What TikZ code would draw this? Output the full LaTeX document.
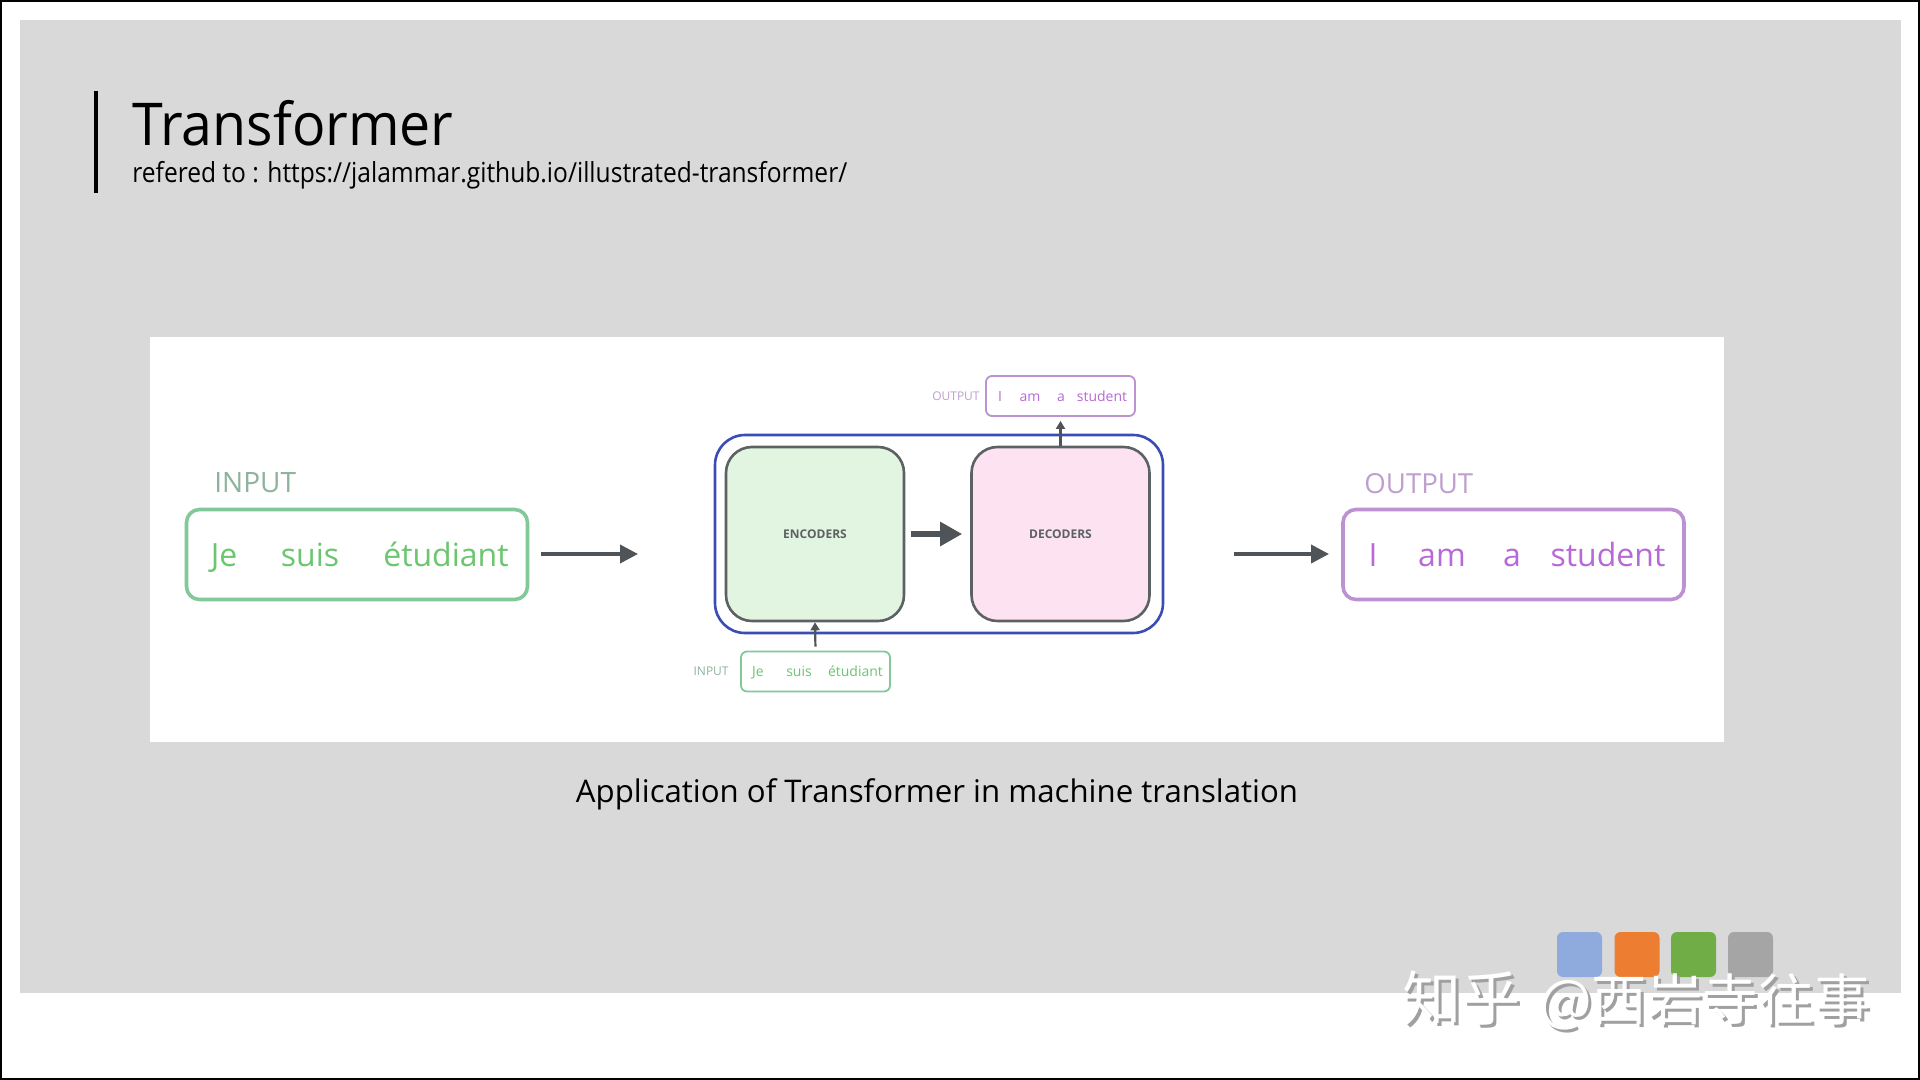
\documentclass[tikz,border=0pt]{standalone}
\usepackage{fontspec}
\setmainfont{Open Sans}
\newfontfamily\cjkfont{Noto Sans CJK SC}
\usetikzlibrary{arrows.meta}
\definecolor{pagegray}{HTML}{D9D9D9}
\definecolor{darkline}{HTML}{4F5458}
\definecolor{softdark}{HTML}{5C6164}
\definecolor{boxgreen}{HTML}{82C99A}
\definecolor{txtgreen}{HTML}{6CC670}
\definecolor{lblgreen}{HTML}{8DB39C}
\definecolor{boxpurple}{HTML}{BC92D2}
\definecolor{txtpurple}{HTML}{B76AD6}
\definecolor{lblpurple}{HTML}{BE9FD0}
\definecolor{fillgreen}{HTML}{E2F5E0}
\definecolor{fillpink}{HTML}{FDE3F1}
\definecolor{blueline}{HTML}{3A4DB5}
\definecolor{sqblue}{HTML}{8FAADC}
\definecolor{sqorange}{HTML}{ED7D31}
\definecolor{sqgreen}{HTML}{70AD47}
\definecolor{sqgray}{HTML}{A5A5A5}
\definecolor{wmshadow}{HTML}{A0A0A0}
\newcommand{\fsz}[1]{\fontsize{#1}{#1}\selectfont}
\tikzset{
  x=0.5pt,y=-0.5pt,
  rbox/.style={rectangle,inner sep=0pt,rounded corners=#1},
  rbox/.default=6pt,
  lbl/.style={inner sep=0pt,anchor=base},
  square/.style={rectangle,inner sep=0pt,minimum width=22.5pt,minimum height=22.5pt,rounded corners=3pt},
  thinup/.style={darkline,line width=1.1pt,-{Triangle[length=4pt,width=4.5pt]}},
  longarrow/.style={darkline,line width=1.9pt,-{Triangle[length=9pt,width=9pt]}},
  bigarrow/.style={darkline,line width=3pt,-{Triangle[length=11pt,width=11.5pt]}},
}
\begin{document}
\begin{tikzpicture}
\useasboundingbox (0,0) rectangle (1920,1080);
% page
\fill[white] (0,0) rectangle (1920,1080);
\draw[black,line width=1pt] (1,1) rectangle (1919,1079);
\fill[pagegray] (20,20) rectangle (1901,993);
\fill[black] (93.5,91) rectangle (98,193);
\node[lbl,anchor=base west,font=\fsz{29.5}] (title) at (132,146) {\scalebox{0.94}[1]{Transformer}};
\node[lbl,anchor=base west,font=\fsz{13.8}] (sub) at (132,183) {\scalebox{0.89}[1]{refered to : https://jalammar.github.io/illustrated-transformer/}};
% panel
\fill[white] (150,337) rectangle (1724,742);
% big input
\node[lbl,anchor=base west,text=lblgreen,font=\fsz{14}] (inlabel) at (214,492) {INPUT};
\node[rbox=6.5pt,draw=boxgreen,line width=1.8pt,minimum width=170.5pt,minimum height=45pt] (inbig) at (357,554.5) {};
\begin{scope}[every node/.style={lbl,text=txtgreen,font=\fsz{16}}]
\node (w1) at (224,566) {Je};
\node (w2) at (310,566) {suis};
\node (w3) at (446,566) {étudiant};
\end{scope}
% big output
\node[lbl,anchor=base west,text=lblpurple,font=\fsz{13.8}] (outlabel) at (1364,493) {OUTPUT};
\node[rbox=6.5pt,draw=boxpurple,line width=1.8pt,minimum width=170.5pt,minimum height=45pt] (outbig) at (1513.5,554.5) {};
\begin{scope}[every node/.style={lbl,text=txtpurple,font=\fsz{16}}]
\node (o1) at (1373,566) {I};
\node (o2) at (1442,566) {am};
\node (o3) at (1512,566) {a};
\node (o4) at (1608,566) {student};
\end{scope}
% container
\node[rbox=15pt,draw=blueline,line width=1.3pt,minimum width=224pt,minimum height=99pt] (box) at (939,534) {};
\node[rbox=13pt,draw=softdark,fill=fillgreen,line width=1.3pt,minimum width=89pt,minimum height=87pt] (enc) at (815,534) {};
\node[rbox=13pt,draw=softdark,fill=fillpink,line width=1.3pt,minimum width=89pt,minimum height=87pt] (dec) at (1060.5,534) {};
\node[inner sep=0pt,text=softdark,font=\fsz{6}\bfseries] (enclab) at (815,534) {ENCODERS};
\node[inner sep=0pt,text=softdark,font=\fsz{6}\bfseries] (declab) at (1060.5,534) {DECODERS};
% small output
\node[rbox=3pt,draw=boxpurple,line width=0.9pt,minimum width=74.5pt,minimum height=20pt] (outsm) at (1060.5,396) {};
\node[inner sep=0pt,anchor=east,text=lblpurple,font=\fsz{6}] (outsmlab) at (980,396) {OUTPUT};
\begin{scope}[every node/.style={lbl,text=txtpurple,font=\fsz{7}}]
\node (s1) at (1000,401.5) {I};
\node (s2) at (1030,401.5) {am};
\node (s3) at (1061,401.5) {a};
\node (s4) at (1102,401.5) {student};
\end{scope}
% small input
\node[rbox=3pt,draw=boxgreen,line width=0.9pt,minimum width=74.5pt,minimum height=20pt] (insm) at (815.5,671.5) {};
\node[inner sep=0pt,anchor=east,text=lblgreen,font=\fsz{6}] (insmlab) at (729,671.5) {INPUT};
\begin{scope}[every node/.style={lbl,text=txtgreen,font=\fsz{7}}]
\node (t1) at (758,676.5) {Je};
\node (t2) at (799,676.5) {suis};
\node (t3) at (855.5,676.5) {étudiant};
\end{scope}
% connectors
\draw[bigarrow,shorten <=3pt,shorten >=4pt] (enc.east) -- (dec.west);
\draw[thinup,shorten >=2pt] (dec.north) -- (outsm.south);
\draw[thinup,shorten <=2pt] (insm.north) -- (enc.south);
\coordinate (fa) at (541,554);
\coordinate (fb) at (638,554);
\coordinate (fc) at (1234,554);
\coordinate (fd) at (1329,554);
\draw[longarrow] (fa) -- (fb);
\draw[longarrow] (fc) -- (fd);
% caption
\node[inner sep=0pt,anchor=base,font=\fsz{15.6}] (cap) at (937,802) {Application of Transformer in machine translation};
% squares
\node[square,fill=sqblue] (q1) at (1579.5,954.5) {};
\node[square,fill=sqorange] (q2) at (1637,954.5) {};
\node[square,fill=sqgreen] (q3) at (1693.5,954.5) {};
\node[square,fill=sqgray] (q4) at (1750.5,954.5) {};
% watermark
\node[inner sep=0pt,anchor=base west,text=wmshadow,font=\cjkfont\fsz{29.5}] (wma2) at (1405,1023) {知乎};
\node[inner sep=0pt,anchor=base west,text=white,font=\cjkfont\fsz{29.5}] (wma1) at (1402,1020) {知乎};
\node[inner sep=0pt,anchor=base east,text=wmshadow,font=\cjkfont\fsz{27.8}] (wmb2) at (1873,1023) {@西岩寺往事};
\node[inner sep=0pt,anchor=base east,text=white,font=\cjkfont\fsz{27.8}] (wmb1) at (1870,1020) {@西岩寺往事};
\end{tikzpicture}
\end{document}
